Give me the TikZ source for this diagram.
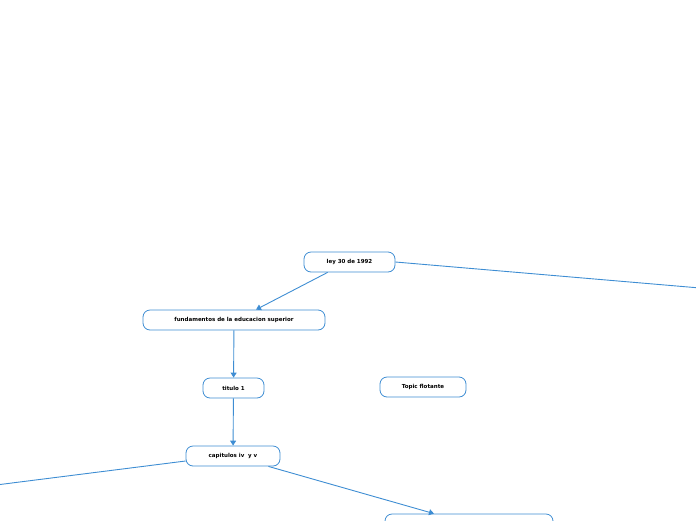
\documentclass[tikz,border=0pt]{standalone}
\usepackage{fontspec}
\setmainfont{DejaVu Sans}
\usetikzlibrary{arrows.meta}
\begin{document}
\begin{tikzpicture}[x=1pt,y=-1pt,
  topic/.style={draw=cyan!60!blue!80,line width=0.8pt,rounded corners=7pt,fill=white,minimum height=20pt,inner sep=0pt,font=\fontsize{5.5}{6}\selectfont\bfseries},
  link/.style={draw=cyan!60!blue!80,line width=0.9pt},
  arr/.style={link,-{Triangle[width=6pt,length=5pt]}}]
\useasboundingbox (0,0) rectangle (696,520);
\clip (0,0) rectangle (696,520);
\node[topic,minimum width=91pt] (ley) at (349.5,262) {ley 30 de 1992};
\node[topic,minimum width=182pt] (fund) at (234,320) {fundamentos de la educacion superior};
\node[topic,minimum width=61pt] (tit) at (233.5,388) {titulo 1};
\node[topic,minimum width=86pt] (flot) at (423,387) {Topic flotante};
\node[topic,minimum width=94pt] (cap) at (233,456) {capitulos iv\ \ y v};
\node[topic,minimum width=168pt] (bot) at (469,524) {};
\coordinate (r) at (700,288);
\coordinate (l) at (-4,485);
\draw[link] (ley.east) -- (r);
\draw[arr] (ley.south west)++(24,0) -- ([xshift=22pt]fund.north);
\draw[arr] (fund) -- (tit);
\draw[arr] (tit) -- (cap);
\draw[link] (cap.west)++(0,5) -- (l);
\draw[arr] ([xshift=-12pt]cap.south east) -- ([xshift=-35pt]bot.north);
\end{tikzpicture}
\end{document}
